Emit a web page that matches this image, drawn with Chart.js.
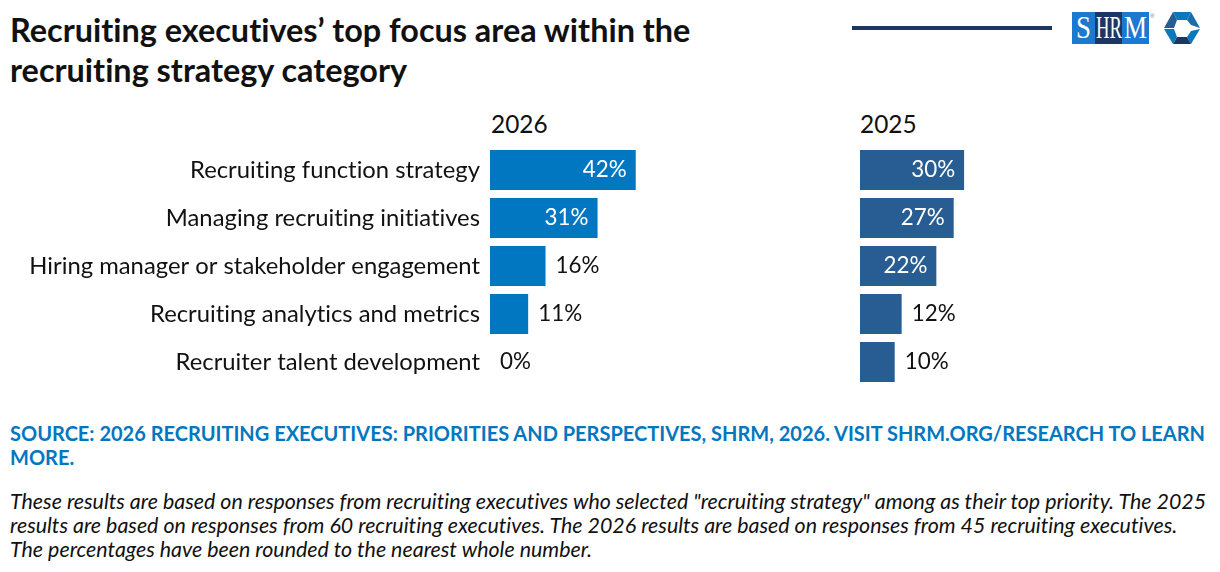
<!DOCTYPE html>
<html>
<head>
<meta charset="utf-8">
<script src="https://cdn.jsdelivr.net/npm/chart.js@4"></script>
<style>
  html, body { margin: 0; background: #fff; }
  body { position: relative; width: 1220px; height: 572px; overflow: hidden; font-family: Lato, sans-serif; color: #111; font-variant-ligatures: none; }
  body > * { position: absolute; }
  h1 { left: 10px; top: 10px; margin: 0; font-size: 32.4px; line-height: 40px; font-weight: 700; white-space: nowrap; }
  .rule { left: 852px; top: 26px; width: 200px; height: 4px; background: #1c3764; }
  .year { top: 110px; font-size: 24.4px; line-height: 28px; }
  canvas { display: block; }
  .chart { top: 146px; height: 240px; }
  .source { left: 10px; top: 421px; font-size: 20px; line-height: 24px; font-weight: 700; color: #0077c0; white-space: nowrap; }
  .note { left: 10px; top: 489px; font-size: 21.4px; line-height: 24px; font-style: italic; white-space: nowrap; }
</style>
</head>
<body>
<h1>Recruiting executives’ top focus area within the<br>recruiting strategy category</h1>
<div class="rule"></div>
<svg style="left:1072px;top:12px" width="132" height="34" viewBox="0 0 132 34">
  <rect x="0" y="0" width="77" height="32" fill="#1c79d0"/>
  <rect x="23" y="0" width="27" height="32" fill="#1c3764"/>
  <g font-family="Liberation Serif" font-size="32" fill="#fff">
    <text x="4" y="26" textLength="15" lengthAdjust="spacingAndGlyphs">S</text>
    <text x="24" y="26" textLength="26" lengthAdjust="spacingAndGlyphs">HR</text>
    <text x="52" y="26" textLength="23" lengthAdjust="spacingAndGlyphs">M</text>
  </g>
  <text x="78" y="6" font-family="Liberation Sans" font-size="6" fill="#777">®</text>
  <g transform="translate(92,0)">
    <polygon points="9,0 27,0 23,8 13,8" fill="#0b78bd"/>
    <polygon points="27,0 36,16 27,13 23,8" fill="#1f6aa8"/>
    <polygon points="36,17 27,32 23,25 27,19" fill="#0b78bd"/>
    <polygon points="27,32 9,32 13,25 23,25" fill="#1c3764"/>
    <polygon points="9,32 0,17 10,17 13,25" fill="#0b78bd"/>
    <polygon points="0,16 9,0 13,8 10,16" fill="#265d93"/>
  </g>
</svg>
<div class="year" style="left:491px">2026</div>
<div class="year" style="left:860px">2025</div>
<div class="chart" style="left:0;width:860px"><canvas id="chart2026"></canvas></div>
<div class="chart" style="left:860px;width:360px"><canvas id="chart2025"></canvas></div>
<div class="source">SOURCE: 2026 RECRUITING EXECUTIVES: PRIORITIES AND PERSPECTIVES, SHRM, 2026. VISIT SHRM.ORG/RESEARCH TO LEARN<br>MORE.</div>
<div class="note">These results are based on responses from recruiting executives who selected "recruiting strategy" among as their top priority. The 2025<br>results are based on responses from 60 recruiting executives. The 2026 results are based on responses from 45 recruiting executives.<br>The percentages have been rounded to the nearest whole number.</div>
<script>
const categories = [
  "Recruiting function strategy",
  "Managing recruiting initiatives",
  "Hiring manager or stakeholder engagement",
  "Recruiting analytics and metrics",
  "Recruiter talent development",
];
const values2026 = [42, 31, 16, 11, 0];
const values2025 = [30, 27, 22, 12, 10];

const FONT = "Lato, sans-serif";
const PX_PER_PCT = 3.47;

// Lato joins "ti" by default, a tiny letter spacing turns that off on the canvas
const noLigatures = {
  id: "noLigatures",
  beforeDraw(chart) {
    chart.ctx.letterSpacing = "0.01px";
  },
};

// writes the percentage inside the bar when it fits, otherwise just past its end
const barLabels = {
  id: "barLabels",
  afterDatasetsDraw(chart) {
    const { ctx } = chart;
    const values = chart.data.datasets[0].data;
    ctx.save();
    ctx.font = "22.4px " + FONT;
    ctx.textBaseline = "middle";
    chart.getDatasetMeta(0).data.forEach((bar, i) => {
      const inside = values[i] >= chart.options.insideFrom;
      ctx.fillStyle = inside ? "#fff" : "#111";
      ctx.textAlign = inside ? "right" : "left";
      ctx.fillText(values[i] + "%", bar.x + (inside ? -9 : 10), bar.y);
    });
    ctx.restore();
  },
};

function makeChart(id, values, color, insideFrom, width, left) {
  return new Chart(document.getElementById(id), {
    type: "bar",
    data: {
      labels: categories,
      datasets: [{ data: values, backgroundColor: color, barPercentage: 1, categoryPercentage: 40 / 48 }],
    },
    options: {
      indexAxis: "y",
      responsive: true,
      maintainAspectRatio: false,
      animation: false,
      insideFrom,
      layout: { padding: 0 },
      plugins: { legend: { display: false }, tooltip: { enabled: false } },
      scales: {
        x: {
          display: false,
          min: 0,
          max: (width - left) / PX_PER_PCT,
        },
        y: {
          afterFit(axis) {
            axis.width = left;
            axis.paddingTop = 0;
            axis.paddingBottom = 0;
          },
          grid: { display: false, drawTicks: false },
          border: { display: false },
          ticks: {
            display: left > 0,
            color: "#111",
            padding: 10,
            font: { family: FONT, size: 23.8 },
          },
        },
      },
    },
    plugins: [noLigatures, barLabels],
  });
}

makeChart("chart2026", values2026, "#0077c0", 31, 860, 490);
makeChart("chart2025", values2025, "#275d93", 22, 360, 0);
</script>
</body>
</html>
